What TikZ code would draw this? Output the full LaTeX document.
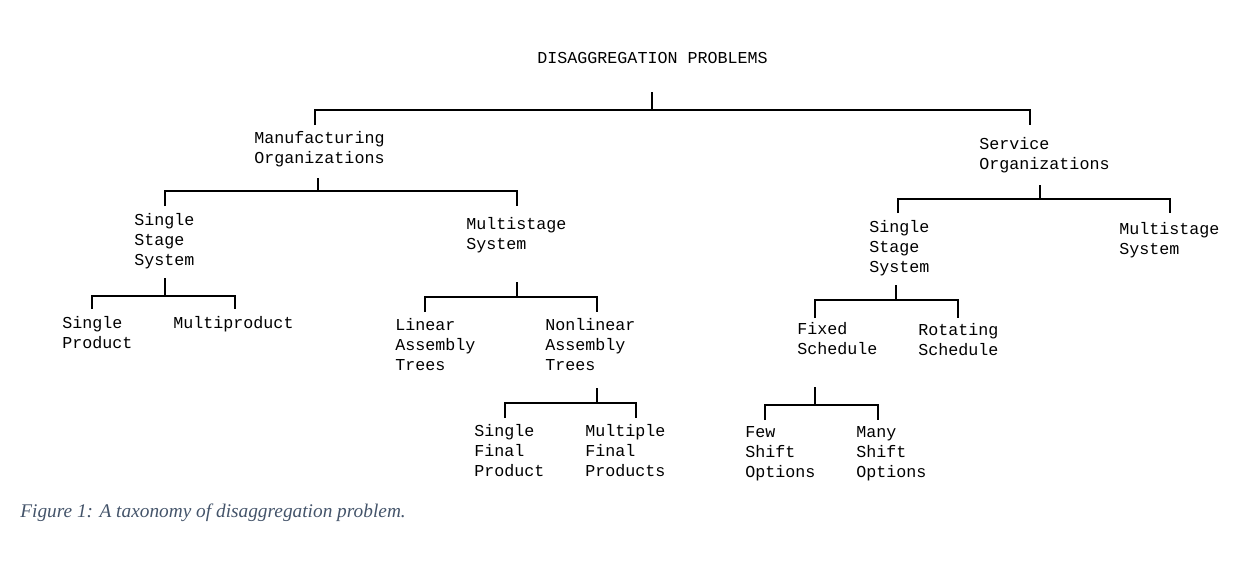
\documentclass[tikz,border=0pt]{standalone}
\usepackage{fontspec}
\newfontfamily\monof{Liberation Mono}
\setmainfont{Liberation Serif}
\definecolor{capc}{HTML}{44546A}
\begin{document}
\begin{tikzpicture}[x=0.02cm,y=-0.02cm,
  lbl/.style={anchor=north west,inner sep=0pt,align=left,font=\monof\fontsize{9.5}{11.3}\selectfont},
  br/.style={line width=1pt}]
\useasboundingbox (0,0) rectangle (1238,582);
\node[lbl] (root) at (537,52) {DISAGGREGATION PROBLEMS};
\node[lbl] (mo) at (254,131) {Manufacturing\\Organizations};
\node[lbl] (so) at (979,137) {Service\\Organizations};
\node[lbl] (mss) at (134,213) {Single\\Stage\\System};
\node[lbl] (mms) at (466,217) {Multistage\\System};
\node[lbl] (sp) at (62,316) {Single\\Product};
\node[lbl] (mp) at (173,316) {Multiproduct};
\node[lbl] (lat) at (395,318) {Linear\\Assembly\\Trees};
\node[lbl] (nat) at (545,318) {Nonlinear\\Assembly\\Trees};
\node[lbl] (sfp) at (474,424) {Single\\Final\\Product};
\node[lbl] (mfp) at (585,424) {Multiple\\Final\\Products};
\node[lbl] (sss) at (869,220) {Single\\Stage\\System};
\node[lbl] (sms) at (1119,222) {Multistage\\System};
\node[lbl] (fs) at (797,322) {Fixed\\Schedule};
\node[lbl] (rs) at (918,323) {Rotating\\Schedule};
\node[lbl] (few) at (745,426) {Few\\Shift\\Options};
\node[lbl] (many) at (856,426) {Many\\Shift\\Options};
\node[anchor=west,inner sep=0pt,text=capc,font=\itshape\fontsize{11}{13}\selectfont] (cap) at (20,513) {Figure 1: A taxonomy of disaggregation problem.};
% brackets: tick x, tick top, bar y, left, right, bottom
\newcommand{\brk}[6]{\draw[br] (#1,#2) -- (#1,#3); \draw[br] (#4,#6) -- (#4,#3) -- (#5,#3) -- (#5,#6);}
\brk{652}{92}{110}{315}{1030}{125}
\brk{318}{178}{191}{165}{517}{206}
\brk{165}{278}{296}{92}{235}{309}
\brk{517}{282}{297}{425}{597}{312}
\brk{597}{388}{403}{505}{636}{418}
\brk{1040}{185}{199}{898}{1170}{213}
\brk{896}{285}{300}{815}{958}{318}
\brk{815}{387}{405}{765}{878}{420}
\end{tikzpicture}
\end{document}
